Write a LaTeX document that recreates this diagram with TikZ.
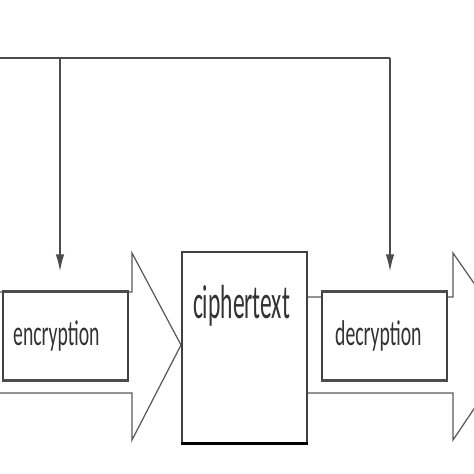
\documentclass[tikz,border=0pt]{standalone}
\usepackage{fontspec}
\setmainfont{Carlito}
\usetikzlibrary{positioning,arrows.meta}

\begin{document}
\begin{tikzpicture}[
    x=0.02cm, y=-0.02cm,
    box/.style={draw=black!75, line width=0.7pt, fill=white, minimum width=2.5cm, minimum height=1.76cm, inner sep=0pt},
    tallbox/.style={box, minimum height=3.82cm},
    edge/.style={draw=black!70, line width=1.5pt},
    blockarrow/.style={draw=black!65, line width=0.7pt},
    bus/.style={draw=black!70, line width=1.7pt},
    keyarrow/.style={draw=black!70, line width=0.8pt, -{Latex[length=0.34cm,width=0.17cm]}, shorten >=0.4cm},
    lbl/.style={text=black!80, inner sep=0pt, fontsize=#1},
    lbl/.default=20.4
]
\tikzset{fontsize/.code={\pgfkeysalso{font=\fontsize{#1}{#1}\selectfont}}}
\useasboundingbox (0,0) rectangle (474,474);
\clip (0,0) rectangle (474,474);

\draw[blockarrow] (0,292) -- (132,292) -- (132,253) -- (181,345) -- (132,440) -- (132,393) -- (0,393);
\draw[blockarrow] (307,297) -- (453,297) -- (453,253) -- (517,345) -- (453,440) -- (453,393) -- (307,393);

\node[box] (enc) at (65.5,336) {};
\node[tallbox] (cipher) at (244.5,347.5) {};
\node[box] (dec) at (384.5,336) {};

\foreach \b in {enc,dec} {
  \draw[edge] (\b.north west) -- (\b.north east);
  \draw[edge] (\b.south west) -- (\b.south east);
}
\draw[edge, draw=black, line width=2pt] (cipher.south west) -- (cipher.south east);

\node[lbl, anchor=base west, xscale=0.55] (enctext) at (13,345) {encryption};
\node[lbl=27.3, anchor=base, xscale=0.49] (ciphertext) at (241.5,318) {ciphertext};
\node[lbl, anchor=base west, xscale=0.55] (dectext) at (335,345) {decryption};

\coordinate (k0) at (0,58);
\coordinate (k1) at (60,58);
\coordinate (k2) at (390,58);
\draw[bus] (k0) -- (k2);
\draw[keyarrow] (k1) -- (k1 |- enc.north);
\draw[keyarrow] (k2) -- (k2 |- dec.north);

\end{tikzpicture}
\end{document}
